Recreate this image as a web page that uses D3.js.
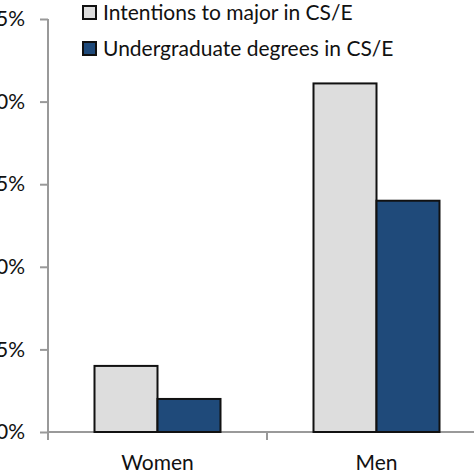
<!DOCTYPE html>
<html>
<head>
<meta charset="utf-8">
<script src="https://cdn.jsdelivr.net/npm/d3@7"></script>
<style>
  body { margin: 0; background: #fff; }
  svg { display: block; }
  text { font-family: Lato, "Open Sans", sans-serif; fill: #111; }
</style>
</head>
<body>
<div id="chart"></div>
<script>
const groups = ['Women', 'Men'];
const seriesNames = ['Intentions to major in CS/E', 'Undergraduate degrees in CS/E'];
const intentions = [4.0, 21.1];
const degrees = [2.0, 14.0];
const yTicks = [0, 5, 10, 15, 20, 25];
const colors = ['#dddddd', '#1f4a7a'];

const width = 474, height = 474;
const svg = d3.select('#chart').append('svg')
    .attr('width', width).attr('height', height);

// y scale: 0 at y=432, 25% at y=19
const y = d3.scaleLinear().domain([0, 25]).range([432, 19]);
// category bands, the second one runs past the right edge
const x = d3.scaleBand().domain(groups).range([48, 486]);
const x1 = d3.scaleBand().domain(seriesNames).range([0, 126]);

// axes
const yAxis = svg.append('g').attr('transform', 'translate(48,0)')
    .call(d3.axisLeft(y).tickValues(yTicks).tickSize(8).tickPadding(15)
        .tickFormat(d => d + '%'));
yAxis.select('.domain').attr('stroke', '#999').attr('stroke-width', 2)
    .attr('d', 'M0,19V440');
yAxis.selectAll('.tick line').attr('stroke', '#999').attr('stroke-width', 2);
yAxis.selectAll('.tick text').attr('font-size', 21).attr('font-family', 'Lato').attr('fill', '#111');

const xAxis = svg.append('g').attr('transform', 'translate(0,432)');
xAxis.append('line').attr('x1', 48).attr('x2', width).attr('y1', 0).attr('y2', 0)
    .attr('stroke', '#999').attr('stroke-width', 2);
xAxis.selectAll('line.tk').data(groups.slice(1)).enter().append('line')
    .attr('class', 'tk')
    .attr('x1', d => x(d)).attr('x2', d => x(d))
    .attr('y1', 0).attr('y2', 8)
    .attr('stroke', '#999').attr('stroke-width', 2);
xAxis.selectAll('text').data(groups).enter().append('text')
    .attr('x', d => x(d) + x.bandwidth() / 2)
    .attr('y', 38)
    .attr('text-anchor', 'middle')
    .attr('font-size', 21)
    .text(d => d);

// bars
const rows = groups.map((g, i) => ({ group: g, values: [intentions[i], degrees[i]] }));
const g = svg.selectAll('g.grp').data(rows).enter().append('g')
    .attr('class', 'grp')
    .attr('transform', d => 'translate(' + (x(d.group) + x.bandwidth() / 2 - 63) + ',0)');
g.selectAll('rect').data(d => d.values.map((v, j) => ({ key: seriesNames[j], v: v, j: j })))
    .enter().append('rect')
    .attr('x', d => x1(d.key))
    .attr('y', d => y(d.v))
    .attr('width', x1.bandwidth())
    .attr('height', d => y(0) - y(d.v))
    .attr('fill', d => colors[d.j])
    .attr('stroke', '#111')
    .attr('stroke-width', 2);

// legend
const leg = svg.selectAll('g.leg').data(seriesNames).enter().append('g')
    .attr('class', 'leg')
    .attr('transform', (d, i) => 'translate(83,' + (6 + i * 36) + ')');
leg.append('rect').attr('width', 13).attr('height', 13)
    .attr('fill', (d, i) => colors[i]).attr('stroke', '#111').attr('stroke-width', 2);
leg.append('text').attr('x', 20).attr('y', 14)
    .attr('font-size', 21)
    .text(d => d);
</script>
</body>
</html>
